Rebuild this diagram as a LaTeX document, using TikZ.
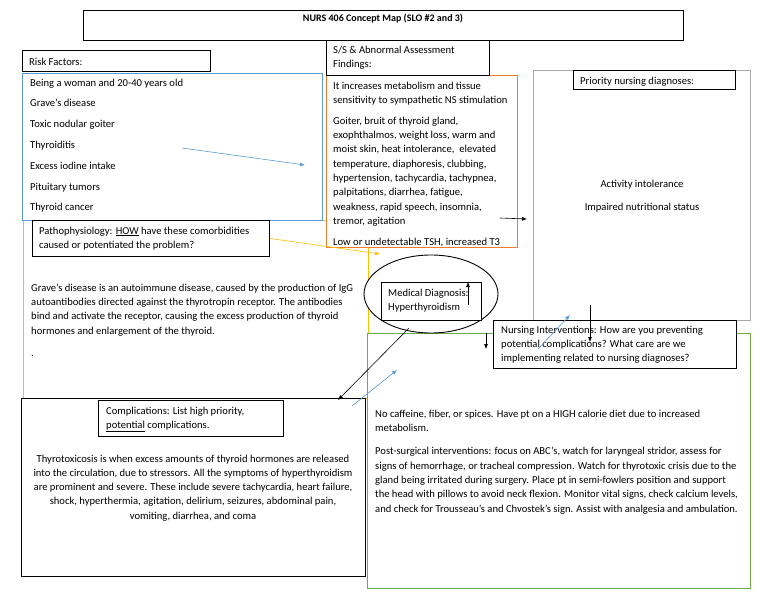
\documentclass[tikz,border=0pt]{standalone}
\usepackage{fontspec}
\setmainfont{Carlito}
\usetikzlibrary{arrows.meta,shapes.geometric}
\definecolor{rfblue}{RGB}{91,155,213}
\definecolor{ssorange}{RGB}{237,125,49}
\definecolor{payellow}{RGB}{255,192,0}
\definecolor{nigreen}{RGB}{112,173,71}
\definecolor{prgray}{RGB}{170,170,170}
\tikzset{
  box/.style={draw, line width=0.9pt, fill=white, inner sep=0pt, anchor=north west},
  txt/.style={font=\fontsize{10.6}{14.3}\selectfont, align=left, inner sep=0pt,
    anchor=north west, execute at begin node=\strut},
  arr/.style={-{Latex[length=5pt,width=4pt]}, line width=0.6pt},
}
\begin{document}
\begin{tikzpicture}[x=1pt,y=-1pt]
            \useasboundingbox (0,0) rectangle (768,594);
            % boxes
            \node[box, minimum width=600pt, minimum height=30pt] (titlebox) at (83,10) {};
            \node[box, minimum width=188pt, minimum height=21pt] (riskhead) at (22,50) {};
            \node[box, draw=payellow, line width=0.8pt, minimum width=345pt, minimum height=178pt] (pabox) at (23,220) {};
            \node[box, draw=rfblue, line width=0.8pt, minimum width=300pt, minimum height=147pt] (riskbox) at (22,73) {};
            \node[box, draw=ssorange, line width=0.8pt, minimum width=191pt, minimum height=172pt] (ssbox) at (326,75) {};
            \node[box, minimum width=163pt, minimum height=35pt] (sshead) at (326,40) {};
            \node[box, draw=prgray, line width=0.8pt, minimum width=217pt, minimum height=250pt] (priobox) at (533,70) {};
            \node[box, minimum width=162pt, minimum height=19pt] (priohead) at (573,70) {};
            \node[box, draw=nigreen, line width=0.8pt, minimum width=383pt, minimum height=255pt] (nibox) at (367,333) {};
            \node[box, minimum width=237pt, minimum height=36pt] (pahead) at (32,220) {};
            \node[draw, ellipse, line width=0.9pt, fill=white, minimum width=134pt, minimum height=78pt] (mdell) at (431,294) {};
            \node[box, minimum width=100pt, minimum height=38pt] (mdbox) at (381,282) {};
            \node[box, minimum width=243pt, minimum height=48pt] (nihead) at (493,320) {};
            \node[box, minimum width=344pt, minimum height=178pt] (compbox) at (21,398) {};
            \node[box, minimum width=185pt, minimum height=36pt] (comphead) at (98,400) {};
            % texts
            \node[txt, anchor=base, font=\fontsize{10}{14.3}\selectfont\bfseries] (title) at (383,22) {NURS 406 Concept Map (SLO \#2 and 3)};
            \node[txt] (risktitle) at (29,55.5) {Risk Factors:};
            \node[txt] (risklist) at (30,78.5) {Being a woman and 20-40 years old\\[6.5pt]
              Grave's disease\\[6.5pt] Toxic nodular goiter\\[6.5pt] Thyroiditis\\[6.5pt]
              Excess iodine intake\\[6.5pt] Pituitary tumors\\[6.5pt] Thyroid cancer};
            \node[txt] (sstitle) at (333,45.5) {S/S \& Abnormal Assessment\\ Findings:};
            \begin{scope}
              \clip (326.5,75.5) rectangle (516.5,246.5);
              \node[txt] (sslist) at (333,81.5) {It increases metabolism and tissue\\
                sensitivity to sympathetic NS stimulation\\[6.7pt]
                Goiter, bruit of thyroid gland,\\ exophthalmos, weight loss, warm and\\
                moist skin, heat intolerance,~ elevated\\ temperature, diaphoresis, clubbing,\\
                hypertension, tachycardia, tachypnea,\\ palpitations, diarrhea, fatigue,\\
                weakness, rapid speech, insomnia,\\ tremor, agitation\\[6.7pt]
                Low or undetectable TSH, increased T3};
            \end{scope}
            \node[txt] (priotitle) at (580,74.5) {Priority nursing diagnoses:};
            \node[txt, anchor=north, align=center] (priolist) at (642,180) {Activity intolerance\\[8.5pt] Impaired nutritional status};
            \node[txt] (patitle) at (39,226.5) {Pathophysiology: \underline{HOW} have these comorbidities\\ caused or potentiated the problem?};
            \node[txt] (patext) at (31,283.5) {Grave's disease is an autoimmune disease, caused by the production of IgG\\
              autoantibodies directed against the thyrotropin receptor. The antibodies\\
              bind and activate the receptor, causing the excess production of thyroid\\
              hormones and enlargement of the thyroid.\\[8.5pt] .};
            \node[txt] (mdtext) at (388,288.5) {Medical Diagnosis:\\ Hyperthyroidism};
            \node[txt] (nitext) at (501,325.5) {Nursing Interventions: How are you preventing\\
              potential complications? What care are we\\ implementing related to nursing diagnoses?};
            \node[txt] (comptitle) at (106,406.5) {Complications: List high priority,\\ \underline{potential} complications.};
            \node[txt, anchor=north, align=center] (comptext) at (193,454.5) {Thyrotoxicosis is when excess amounts of thyroid hormones are released\\
              into the circulation, due to stressors. All the symptoms of hyperthyroidism\\
              are prominent and severe. These include severe tachycardia, heart failure,\\
              shock, hyperthermia, agitation, delirium, seizures, abdominal pain,\\
              vomiting, diarrhea, and coma};
            \node[txt] (nilist) at (375,410) {No caffeine, fiber, or spices. Have pt on a HIGH calorie diet due to increased\\
              metabolism.\\[8.7pt]
              Post-surgical interventions: focus on ABC's, watch for laryngeal stridor, assess for\\
              signs of hemorrhage, or tracheal compression. Watch for thyrotoxic crisis due to the\\
              gland being irritated during surgery. Place pt in semi-fowlers position and support\\
              the head with pillows to avoid neck flexion. Monitor vital signs, check calcium levels,\\
              and check for Trousseau's and Chvostek's sign. Assist with analgesia and ambulation.};
            % arrows
            \coordinate (rfa) at (182,148);
            \coordinate (rfb) at (305,165);
            \coordinate (ssa) at (500,218);
            \coordinate (ssb) at (527,219);
            \coordinate (pab) at (380,254);
            \coordinate (pra) at (590,305);
            \coordinate (prb) at (590,342);
            \coordinate (mda) at (468,305);
            \coordinate (mdb) at (468,282);
            \coordinate (dna) at (486,333);
            \coordinate (dnb) at (486,349);
            \coordinate (nia) at (538,349);
            \coordinate (nib) at (570,315);
            \coordinate (cpa) at (409,328);
            \coordinate (cpb) at (338,400);
            \coordinate (nga) at (352,406);
            \coordinate (ngb) at (397,370);
            \draw[arr, rfblue] (rfa) -- (rfb);
            \draw[arr] (ssa) -- (ssb);
            \draw[arr, payellow] (pahead.east) -- (pab);
            \draw[arr] (pra) -- (prb);
            \draw[arr] (mda) -- (mdb);
            \draw[arr] (dna) -- (dnb);
            \draw[arr, rfblue] (nia) -- (nib);
            \draw[arr] (cpa) -- (cpb);
            \draw[arr, rfblue] (nga) -- (ngb);
        \end{tikzpicture}
\end{document}
